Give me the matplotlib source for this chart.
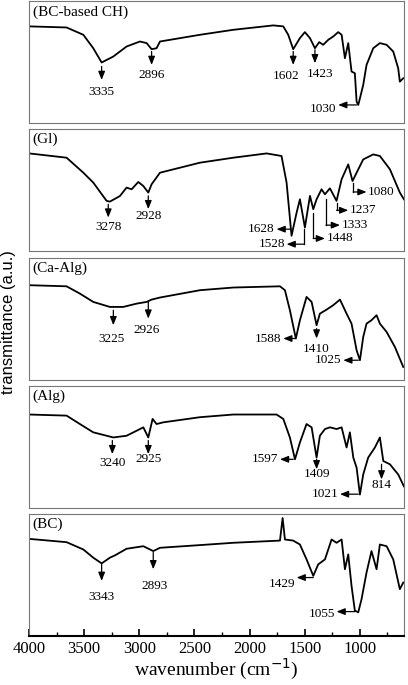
import matplotlib.pyplot as plt
from matplotlib.ticker import MultipleLocator

plt.rcParams['font.family'] = ['Liberation Serif', 'DejaVu Serif']

# spectra: wavenumber (cm-1) and transmittance (0-100, arbitrary)
ch_wn = [3997, 3659, 3507, 3417, 3341, 3235, 3115, 2994, 2933, 2888, 2843, 2812, 2450, 2147, 1785, 1694,
         1649, 1604, 1543, 1498, 1452, 1407, 1368, 1332, 1286, 1241, 1196, 1165, 1135, 1105, 1075, 1045,
         1029, 1014, 999, 969, 939, 878, 818, 757, 697, 652, 637, 606]
ch_t = [79.5, 78.6, 72.6, 61.6, 49.9, 54.8, 63, 67.1, 65.8, 60.8, 61.6, 67.1, 72.6, 76.7, 80.3, 79.5,
        72.6, 60.8, 69.9, 74.8, 69.9, 61.6, 66.6, 64.4, 68.5, 71.2, 74.8, 72.6, 53.4, 65.8, 42.5, 41.1,
        17.8, 15.1, 20.5, 31.5, 47.9, 61.6, 65.8, 64.4, 58.9, 45.2, 34.2, 37]

gl_wn = [3997, 3659, 3507, 3417, 3296, 3266, 3175, 3115, 3069, 3009, 2963, 2918, 2888, 2812, 2450, 2147,
         1845, 1710, 1664, 1619, 1573, 1543, 1498, 1452, 1422, 1392, 1347, 1316, 1271, 1211, 1165, 1105,
         1066, 1029, 969, 878, 818, 727, 637, 600]
gl_t = [79.8, 76.3, 64, 55.9, 40.9, 40.3, 44.9, 51.8, 50.4, 56.4, 53.1, 47.7, 54.5, 64, 72.2, 76.3,
        79.8, 77.7, 55.9, 12.3, 31.3, 42.2, 19.1, 45, 34.1, 42.2, 50.4, 46.3, 51.2, 40.9, 58.6, 70.8,
        57.2, 64, 74.9, 79, 77.7, 66.8, 47.7, 42.2]

caalg_wn = [3997, 3659, 3538, 3417, 3266, 3145, 3024, 2933, 2888, 2812, 2450, 2147, 1724, 1679, 1634, 1580,
            1543, 1483, 1437, 1392, 1362, 1301, 1241, 1180, 1120, 1075, 1029, 999, 969, 939, 894, 848,
            818, 757, 682, 606]
caalg_t = [77.9, 77, 71, 64.2, 60.1, 60.1, 62.8, 64.2, 66.1, 67.8, 73.8, 76, 77, 73.8, 57.4, 34.2,
           49.2, 68.3, 64.2, 45.1, 54.6, 57.9, 61.5, 66.1, 54.6, 46.4, 24.6, 16.4, 35.5, 46.4, 49.2, 53.3,
           46.4, 39.6, 27.3, 10.9]

alg_wn = [3997, 3659, 3538, 3417, 3235, 3115, 3024, 2963, 2918, 2879, 2843, 2782, 2450, 2147, 1755, 1694,
          1634, 1588, 1543, 1483, 1437, 1392, 1362, 1316, 1271, 1211, 1165, 1120, 1090, 1059, 1029, 999,
          969, 924, 863, 818, 787, 727, 652, 600]
alg_t = [76.9, 76, 69.1, 62.3, 58.1, 59.5, 63.6, 66.4, 58.1, 73.3, 69.1, 70.5, 74.7, 76.9, 76.9, 73.3,
         58.1, 40.2, 54, 69.1, 66.4, 41.6, 59.5, 65, 66.4, 65, 66.4, 49.9, 62.3, 41.6, 33.3, 11.3,
         27.8, 41.6, 49.9, 58.1, 38.8, 36.1, 27.8, 18]

bc_wn = [3997, 3659, 3507, 3417, 3341, 3266, 3220, 3115, 2963, 2873, 2812, 2450, 2147, 1724, 1700, 1679,
         1604, 1543, 1483, 1422, 1377, 1316, 1256, 1211, 1165, 1135, 1105, 1075, 1045, 1014, 984, 939,
         894, 848, 818, 757, 697, 637, 606]
bc_t = [79.4, 76.7, 70.7, 64, 59.3, 64, 65.9, 71.3, 73.4, 69.4, 72.1, 74.3, 76.2, 78, 96.5, 78.9,
        78, 74.8, 62.6, 49.1, 58.5, 62.6, 78.9, 76.2, 78.9, 54.5, 66.7, 40.9, 20.6, 19.2, 30.1, 51.8,
        69.4, 54.5, 74.8, 73.4, 62.6, 38.2, 43.6]

names = ['(BC-based CH)', '(Gl)', '(Ca-Alg)', '(Alg)', '(BC)']
spectra = [(ch_wn, ch_t), (gl_wn, gl_t), (caalg_wn, caalg_t), (alg_wn, alg_t), (bc_wn, bc_t)]

AP = dict(arrowstyle='-|>,head_length=0.5,head_width=0.2', color='black', lw=0.9, shrinkA=0, shrinkB=0)
FS = 9.5


def down(ax, x, y0, y1, label, ty, tx=None):
    ax.annotate('', xy=(x, y1), xytext=(x, y0), arrowprops=AP)
    ax.text(x if tx is None else tx, ty, label, ha='center', va='center', fontsize=FS)


def side(ax, x0, x1, y, label, ty=None, corner=None):
    # arrow from the peak at x0 to label side at x1; optional vertical drop from corner
    if corner is not None:
        ax.plot([x0, x0], [corner, y], color='black', lw=0.9)
    ax.annotate('', xy=(x1, y), xytext=(x0, y), arrowprops=AP)
    ha = 'right' if x1 > x0 else 'left'
    off = 15 if x1 > x0 else -15
    ax.text(x1 + off, y if ty is None else ty, label, ha=ha, va='center', fontsize=FS)


fig = plt.figure(figsize=(4.08, 6.85), dpi=100)
axes = []
tops = [0.998, 0.812, 0.623, 0.436, 0.250]
h = 122 / 685
for i, (wn, t) in enumerate(spectra):
    ax = fig.add_axes([0.071, tops[i] - h, 0.919, h])
    ax.plot(wn, t, color='black', lw=1.3)
    ax.set_xlim(4000, 600)
    ax.set_ylim(0, 100)
    ax.set_yticks([])
    ax.text(0.01, 0.97, names[i], transform=ax.transAxes, ha='left', va='top', fontsize=11)
    for s in ax.spines.values():
        s.set_color('#777777')
        s.set_linewidth(0.8)
    if i < 4:
        ax.set_xticks([])
    axes.append(ax)

a1, a2, a3, a4, a5 = axes
down(a1, 3341, 46.6, 35.6, '3335', 26)
down(a1, 2888, 58.9, 47.9, '2896', 39.7)
down(a1, 1604, 58.9, 47.9, '1602', 39.2, tx=1664)
down(a1, 1407, 60.3, 49.3, '1423', 40.3, tx=1362)
side(a1, 1029, 1196, 15.1, '1030', ty=11.8)

down(a2, 3281, 38.1, 27.2, '3278', 19.6)
down(a2, 2918, 45, 34.1, '2928', 28.6)
side(a2, 1634, 1755, 17.7, '1628')
side(a2, 1507, 1664, 5.4, '1528', corner=17.7)
side(a2, 1422, 1316, 10.1, '1448', corner=31.3)
side(a2, 1307, 1180, 21, '1333', corner=42.2)
side(a2, 1211, 1105, 33.2, '1237', corner=39.5)
side(a2, 1060, 939, 48.2, '1080', corner=55.9)

down(a3, 3235, 57.4, 45.1, '3225', 34.2, tx=3251)
down(a3, 2918, 64.2, 50.5, '2926', 41, tx=2933)
side(a3, 1588, 1694, 34.2, '1588')
down(a3, 1392, 42.3, 34.2, '1410', 26)
side(a3, 1014, 1150, 16.4, '1025')

down(a4, 3244, 55.6, 44.4, '3240', 37.5)
down(a4, 2918, 55.6, 44.4, '2925', 40.2)
side(a4, 1604, 1724, 40.2, '1597')
down(a4, 1392, 40.2, 32, '1409', 27.8)
down(a4, 803, 36.1, 23.7, '814', 19)
side(a4, 1014, 1180, 11.6, '1021')

down(a5, 3341, 58.5, 45, '3343', 31.4)
down(a5, 2873, 68.3, 54.5, '2893', 40.4, tx=2858)
side(a5, 1422, 1573, 47.7, '1429', ty=42.3)
side(a5, 1045, 1211, 19.8, '1055', ty=17.9)

a5.spines['bottom'].set_color('black')
a5.spines['bottom'].set_linewidth(1.5)
a5.xaxis.set_major_locator(MultipleLocator(500))
a5.xaxis.set_minor_locator(MultipleLocator(250))
a5.tick_params(axis='x', which='both', direction='in', labelsize=12)
a5.tick_params(axis='x', which='major', length=5, width=1.2)
a5.tick_params(axis='x', which='minor', length=3, width=1)
a5.set_xlabel('wavenumber (cm$^{-1}$)', fontsize=14, labelpad=0)

fig.text(0.022, 0.53, 'transmittance (a.u.)', rotation=90, ha='center', va='center',
         fontsize=12, family=['Liberation Sans', 'DejaVu Sans'])

fig.savefig('out.png', dpi=100)
